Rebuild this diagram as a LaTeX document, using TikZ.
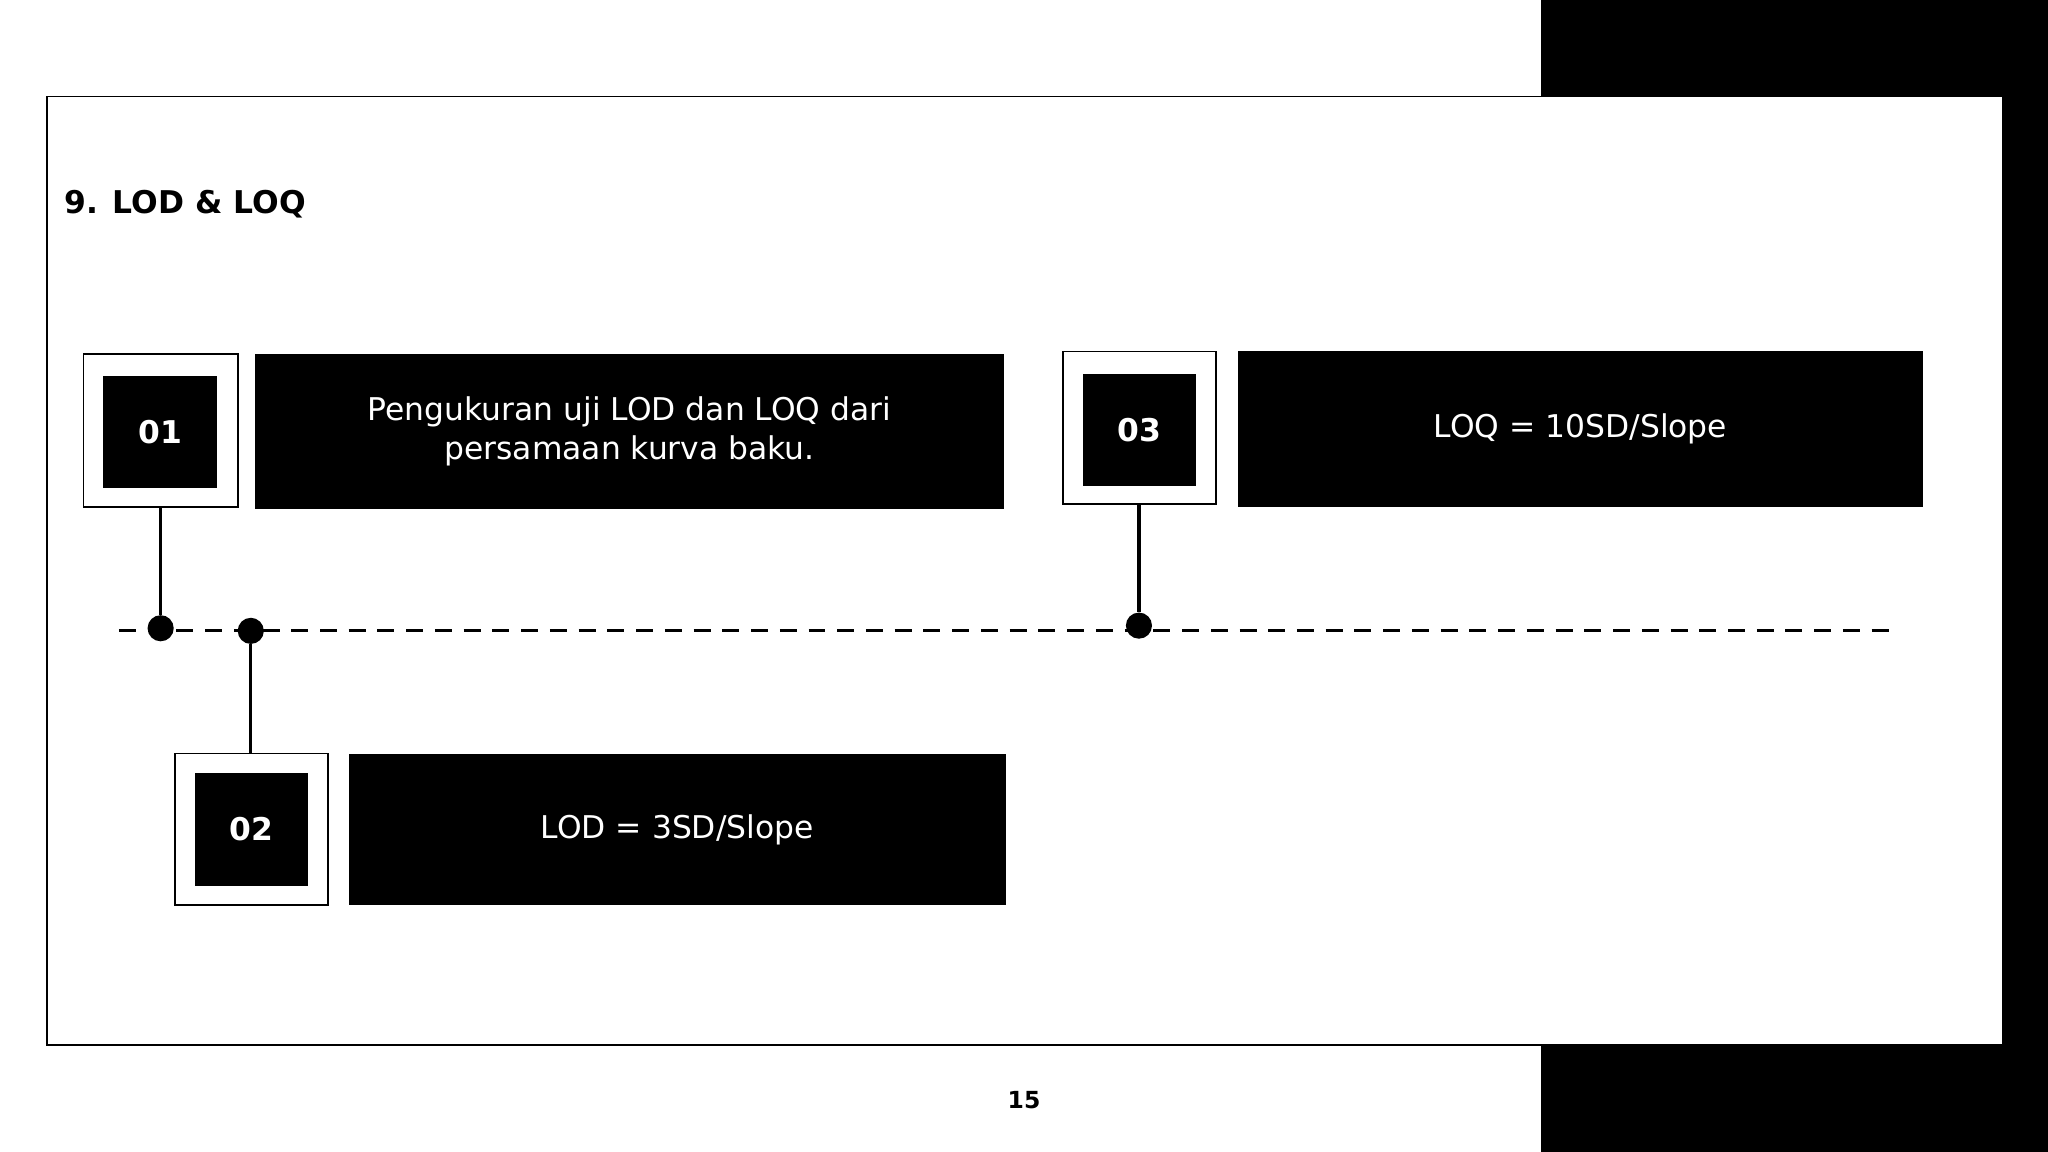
\documentclass[tikz,border=0pt]{standalone}
\usepackage{fontspec}
\setmainfont{DejaVu Sans}
\begin{document}
\begin{tikzpicture}[x=1pt,y=-1pt,
  outerbox/.style={draw=black,line width=1.2pt,fill=white},
  innerbox/.style={fill=black,text=white,font=\bfseries\fontsize{24}{28}\selectfont},
  txtbox/.style={fill=black,text=white,align=center,font=\fontsize{24}{30}\selectfont},
  stem/.style={line width=2.5pt},
  dot/.style={circle,fill=black,inner sep=0pt,minimum size=20pt}]
\useasboundingbox (0,0) rectangle (1568,882);
\fill[black] (1180,0) rectangle (1568,882);
\draw[fill=white,line width=1.2pt] (36,74) rectangle (1533,800);
\node[anchor=west,font=\bfseries\fontsize{24}{28}\selectfont] (title) at (46,156) {9. LOD \& LOQ};
% dashed timeline
\coordinate (ls) at (91,483);
\coordinate (le) at (1448,483);
\draw[line width=2.5pt,dash pattern=on 13pt off 9pt] (ls) -- (le);
% item 1
\draw[outerbox] (64,271) rectangle (182,388);
\node[innerbox,minimum width=87pt,minimum height=86pt] (n1) at (122.5,331) {01};
\node[txtbox,minimum width=574pt,minimum height=119pt] (t1) at (482,330.5) {Pengukuran uji LOD dan LOQ dari\\persamaan kurva baku.};
\node[dot] (d1) at (123,481) {};
\coordinate (s1) at (123,388);
\draw[stem] (s1) -- (d1);
% item 3
\draw[outerbox] (814,269) rectangle (931,386);
\node[innerbox,minimum width=87pt,minimum height=86pt] (n3) at (872.5,329) {03};
\node[txtbox,minimum width=524pt,minimum height=119pt] (t3) at (1210,328.5) {LOQ = 10SD/Slope};
\node[dot] (d3) at (872,479) {};
\coordinate (s3) at (872,386);
\draw[stem] (s3) -- (d3);
% item 2
\draw[outerbox] (134,577) rectangle (251,693);
\node[innerbox,minimum width=87pt,minimum height=86pt] (n2) at (192.5,635) {02};
\node[txtbox,minimum width=503pt,minimum height=116pt] (t2) at (518.5,635) {LOD = 3SD/Slope};
\node[dot] (d2) at (192,483) {};
\coordinate (s2) at (192,577);
\draw[stem] (d2) -- (s2);
\node[font=\bfseries\fontsize{18}{20}\selectfont] (pg) at (784,842) {15};
\end{tikzpicture}
\end{document}
